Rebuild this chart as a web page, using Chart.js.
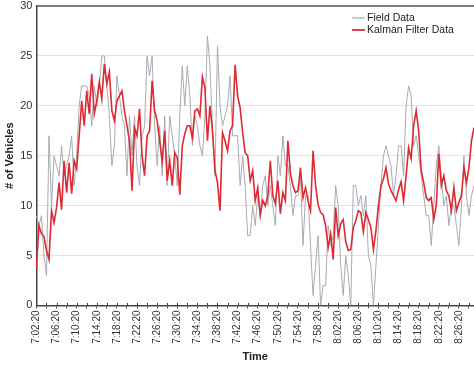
<!DOCTYPE html>
<html>
<head>
<meta charset="utf-8">
<script src="https://cdn.jsdelivr.net/npm/chart.js@4/dist/chart.umd.min.js"></script>
<style>
  html, body { margin: 0; padding: 0; background: #fff; }
  #wrap { width: 474px; height: 366px; }
</style>
</head>
<body>
<div id="wrap"><canvas id="chart" width="474" height="366"></canvas></div>
<script>
// vehicle counts every 30 s from 7:02:20
const fieldData = [
  9, 8, 9, 5, 3, 17, 10, 15, 14, 13, 16, 13, 14, 15, 17, 12, 15, 20, 22, 22,
  22, 21, 18, 22, 20, 22, 25, 25, 22, 19, 14, 16, 23, 21, 19, 18, 13, 19, 15, 19,
  14, 12, 17, 18, 25, 23, 25, 18, 14, 18, 13, 19, 12, 19, 17, 15, 12, 19, 24, 20,
  24, 21, 16, 19, 18, 16, 15, 19, 27, 24, 18, 13, 26, 20, 18, 19, 20, 23, 17, 17,
  17, 12, 15, 12, 7, 7, 10, 8, 11, 9, 12, 13, 10, 12, 10, 8, 15, 13, 17, 14,
  14, 12, 9, 11, 11, 13, 6, 11, 11, 6, 1, 4, 7, 0, 2, 2, 8, 6, 7, 12,
  10, 4, 1, 5, 3, 0, 12, 12, 10, 11, 9, 11, 5, 4, 0, 4, 8, 12, 15, 16,
  15, 14, 11, 13, 16, 16, 13, 20, 22, 21, 16, 17, 15, 13, 11, 9, 9, 6, 10, 14,
  16, 13, 10, 11, 8, 10, 10, 8, 6, 10, 15, 11, 9, 11, 12
];

const kalmanData = [
  3.8, 8.0, 7.2, 6.9, 5.5, 4.6, 9.5, 8.3, 9.8, 12.3, 9.6, 14.5, 11.3, 14.3, 11.2, 14.5, 13.7, 17.0, 20.5, 18.0,
  21.5, 19.2, 23.2, 19.2, 20.5, 22.4, 20.7, 24.2, 22.2, 23.4, 19.5, 18.5, 20.5, 21.0, 21.5, 19.5, 18.0, 16.5, 11.5, 17.8,
  17.0, 19.7, 15.0, 13.0, 17.0, 17.5, 22.5, 19.5, 18.5, 16.5, 14.5, 17.5, 12.5, 14.5, 12.0, 15.3, 14.8, 11.1, 16.0, 17.2,
  18.0, 18.0, 16.8, 19.5, 19.7, 19.0, 22.9, 21.8, 16.5, 20.0, 17.5, 13.5, 12.3, 9.5, 17.3, 16.5, 15.5, 17.5, 18.0, 24.1,
  21.0, 19.8, 17.3, 15.3, 15.0, 12.5, 13.5, 10.5, 11.8, 9.0, 10.5, 10.0, 11.0, 14.5, 11.0, 10.2, 12.5, 9.2, 11.3, 10.5,
  16.5, 13.2, 12.0, 11.3, 11.5, 13.8, 10.8, 11.8, 10.5, 9.5, 15.5, 12.0, 10.1, 9.3, 9.1, 8.0, 5.8, 7.2, 4.6, 9.8,
  7.0, 8.2, 8.6, 6.4, 5.5, 5.6, 7.8, 8.5, 9.5, 9.3, 7.4, 9.3, 8.6, 7.8, 5.6, 7.5, 10.0, 12.0, 12.7, 13.8,
  12.2, 11.5, 11.0, 10.5, 11.6, 12.4, 10.5, 13.0, 15.8, 14.7, 18.0, 19.5, 17.5, 13.5, 12.3, 10.8, 10.5, 10.8, 8.6, 10.0,
  15.2, 12.0, 13.0, 11.5, 11.0, 9.5, 11.8, 9.5, 10.3, 11.0, 13.8, 12.3, 13.8, 16.5, 17.8
];

const seriesNames = ["Field Data", "Kalman Filter Data"];
const yTicks = [0, 5, 10, 15, 20, 25, 30];
const startTime = "7:02:20";
const stepSeconds = 30;

// time labels for each sample
function toSec(t) {
  const p = t.split(":").map(Number);
  return p[0] * 3600 + p[1] * 60 + p[2];
}
function fmt(s) {
  const h = Math.floor(s / 3600), m = Math.floor(s / 60) % 60, sec = s % 60;
  return h + ":" + String(m).padStart(2, "0") + ":" + String(sec).padStart(2, "0");
}
const times = fieldData.map((_, i) => fmt(toSec(startTime) + i * stepSeconds));

const FONT = "Arial, 'Liberation Sans', Helvetica, sans-serif";
const GRAY = "#a7abb3";
const RED = "#dd2a33";

// top frame line, crossing tick marks, legend inside plot
const framePlugin = {
  id: "frame",
  afterDraw(chart) {
    const { ctx, chartArea: a, scales } = chart;
    ctx.save();
    ctx.strokeStyle = "#555";
    ctx.lineWidth = 1.5;
    ctx.beginPath();
    ctx.moveTo(a.left, a.top);
    ctx.lineTo(a.right, a.top);
    ctx.stroke();

    ctx.lineWidth = 1;
    ctx.strokeStyle = "#444";
    scales.x.ticks.forEach((t, i) => {
      const px = Math.round(scales.x.getPixelForTick(i)) + 0.5;
      ctx.beginPath();
      ctx.moveTo(px, a.bottom - 2.5);
      ctx.lineTo(px, a.bottom);
      ctx.stroke();
    });

    // legend
    const colors = [GRAY, RED];
    ctx.font = "10.5px " + FONT;
    ctx.textBaseline = "middle";
    seriesNames.forEach((name, i) => {
      const y = 18 + i * 12;
      ctx.strokeStyle = colors[i];
      ctx.lineWidth = i === 0 ? 1.2 : 1.8;
      ctx.beginPath();
      ctx.moveTo(352, y);
      ctx.lineTo(365, y);
      ctx.stroke();
      ctx.fillStyle = "#222";
      ctx.fillText(name, 367, y);
    });
    ctx.restore();
  }
};

new Chart(document.getElementById("chart"), {
  type: "line",
  data: {
    labels: times,
    datasets: [
      {
        label: seriesNames[0],
        data: fieldData,
        borderColor: GRAY,
        borderWidth: 1,
        pointRadius: 0,
        tension: 0,
        order: 1
      },
      {
        label: seriesNames[1],
        data: kalmanData,
        borderColor: RED,
        borderWidth: 1.6,
        pointRadius: 0,
        tension: 0,
        order: 0
      }
    ]
  },
  options: {
    responsive: false,
    animation: false,
    layout: { padding: { top: 6, right: 0, left: 0, bottom: 2 } },
    plugins: {
      legend: { display: false },
      tooltip: { enabled: false }
    },
    scales: {
      x: {
        type: "category",
        offset: false,
        afterBuildTicks: scale => {
          scale.ticks = scale.ticks.filter(t => t.value % 4 === 0);
        },
        afterFit: scale => {
          scale.paddingRight = 0;
        },
        grid: { display: true, drawOnChartArea: false, drawTicks: true, tickLength: 3, color: "#444" },
        border: { display: true, color: "#444", width: 1.5 },
        ticks: {
          autoSkip: false,
          minRotation: 90,
          maxRotation: 90,
          padding: 2,
          color: "#333",
          font: { family: FONT, size: 10 },
          callback: function (value) {
            return value % 8 === 0 ? this.getLabelForValue(value) : "";
          }
        },
        title: {
          display: true,
          text: "Time",
          color: "#222",
          font: { family: FONT, size: 11, weight: "bold" },
          padding: { top: 5, bottom: 0 }
        }
      },
      y: {
        min: 0,
        max: 30,
        afterBuildTicks: scale => {
          scale.ticks = yTicks.map(v => ({ value: v }));
        },
        afterFit: scale => {
          scale.paddingTop = 0;
        },
        grid: { color: "#e4e4e4", drawTicks: false, lineWidth: 1 },
        border: { display: true, color: "#444", width: 1.5 },
        ticks: {
          padding: 4,
          color: "#333",
          font: { family: FONT, size: 11 }
        },
        title: {
          display: true,
          text: "# of Vehicles",
          color: "#222",
          font: { family: FONT, size: 11, weight: "bold" },
          padding: { top: 3, bottom: 0 }
        }
      }
    }
  },
  plugins: [framePlugin]
});
</script>
</body>
</html>
